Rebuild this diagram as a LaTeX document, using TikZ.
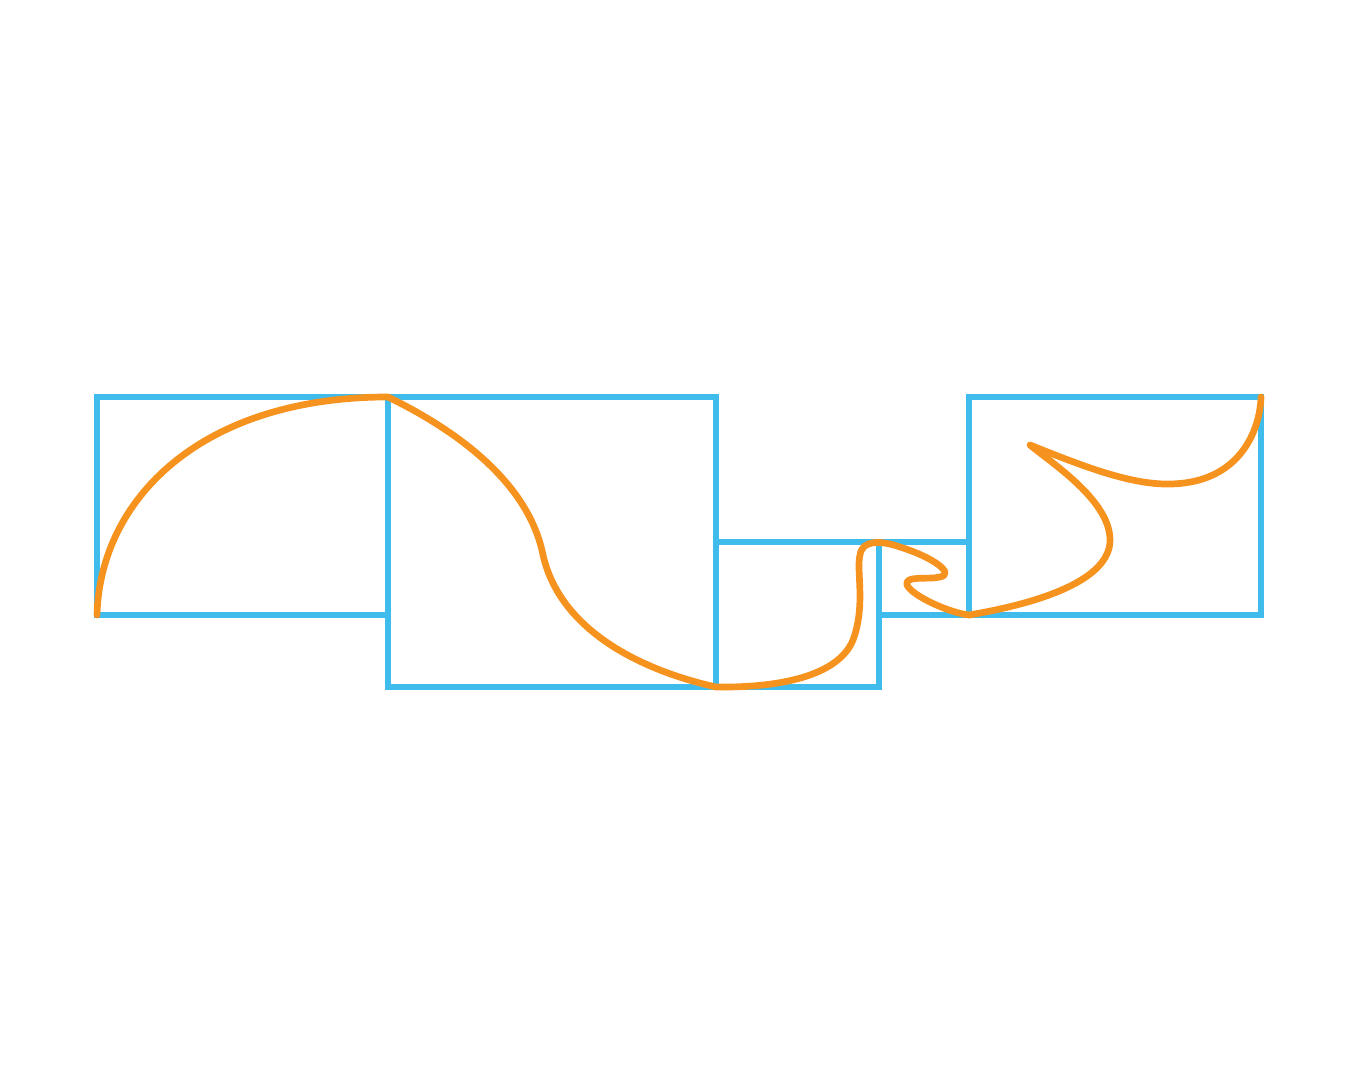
\documentclass[tikz,border=0pt]{standalone}
\usepackage{tikz}
\definecolor{frameblue}{RGB}{64,188,236}
\definecolor{pathorange}{RGB}{246,146,30}

\begin{document}
\begin{tikzpicture}[x=0.01cm,y=-0.01cm,
    frame/.style={draw=frameblue, line width=1.8pt},
    track/.style={draw=pathorange, line width=1.9pt, line join=round, line cap=round}]

    \useasboundingbox (0,0) rectangle (1358,1086);

    %%% FRAMES
    \draw[frame] (97,397) rectangle (388,615);
    \draw[frame] (388,397) rectangle (716,687);
    \draw[frame] (716,542) rectangle (879,687);
    \draw[frame] (879,542) rectangle (969,615);
    \draw[frame] (969,397) rectangle (1261,615);

    %%% CURVE
    \draw[track] (97,615) .. controls (100,500) and (200,397) .. (388,397)
        .. controls (470,437) and (530,490) .. (543,555)
        .. controls (560,630) and (640,670) .. (716,687)
        .. controls (790,688) and (840,672) .. (853,640)
        .. controls (866,605) and (856,570) .. (860,555)
        .. controls (862,540) and (880,540) .. (900,547)
        .. controls (935,558) and (955,574) .. (940,577)
        .. controls (928,580) and (904,575) .. (907,585)
        .. controls (912,596) and (950,613) .. (969,615)
        .. controls (1040,603) and (1110,580) .. (1110,540)
        .. controls (1110,500) and (1050,462) .. (1030,445)
        .. controls (1080,465) and (1130,485) .. (1170,484)
        .. controls (1240,483) and (1260,430) .. (1261,397);

\end{tikzpicture}
\end{document}
